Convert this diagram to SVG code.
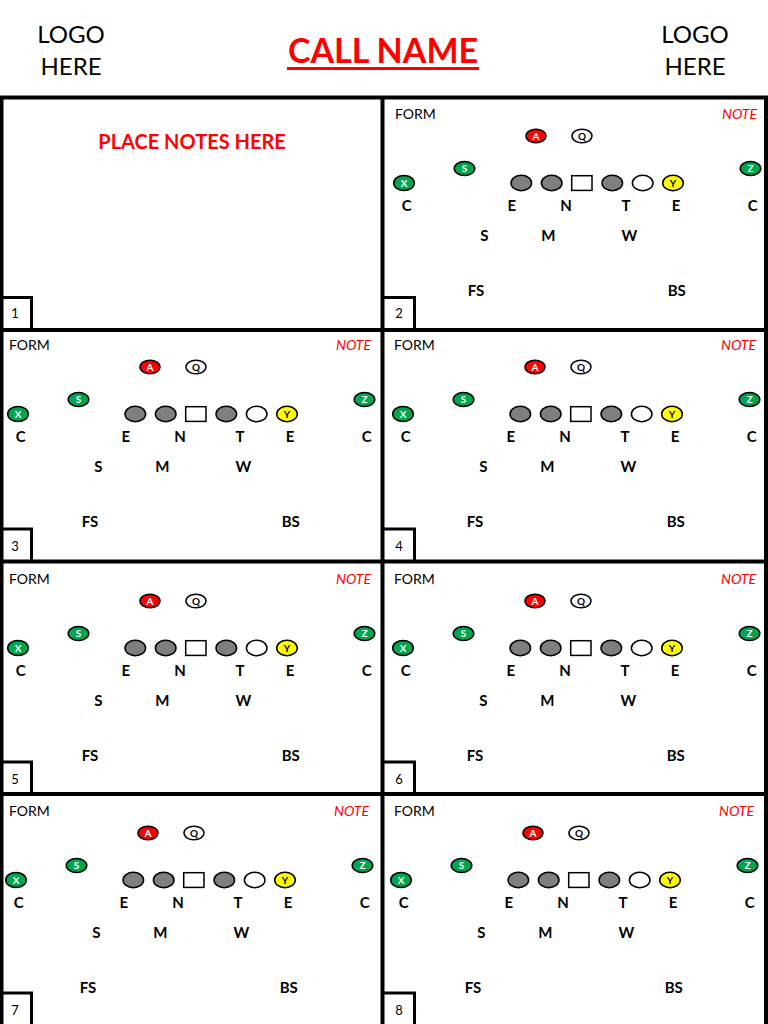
<svg xmlns="http://www.w3.org/2000/svg" width="768" height="1024" viewBox="0 0 768 1024">
<style>
.hd{font-family:Lato,"Liberation Sans",sans-serif;font-size:24px;fill:#000;text-anchor:middle}
.title{font-family:Lato,"Liberation Sans",sans-serif;font-size:34px;font-weight:bold;fill:#ff0000;text-anchor:middle}
.notes{font-family:Lato,"Liberation Sans",sans-serif;font-size:20px;font-weight:bold;fill:#ff0000;text-anchor:middle}
.grid{stroke:#000;stroke-width:4;fill:none}
.box{stroke:#000;stroke-width:3;fill:none}
.num{font-family:Lato,"Liberation Sans",sans-serif;font-size:13px;fill:#000;text-anchor:middle}
.form{font-family:Lato,"Liberation Sans",sans-serif;font-size:14px;fill:#000}
.note{font-family:Lato,"Liberation Sans",sans-serif;font-size:14px;font-style:italic;fill:#ff0000;text-anchor:end}
.lab{font-family:Lato,"Liberation Sans",sans-serif;font-size:15px;font-weight:bold;fill:#000;text-anchor:middle}
.pl{stroke:#000;stroke-width:1.5}
.red{fill:#ff0000}.grn{fill:#00a550}.yel{fill:#ffff00}.gry{fill:#7f7f7f}.wht{fill:#fff}
.pt{font-family:Lato,"Liberation Sans",sans-serif;font-size:10px;font-weight:bold;text-anchor:middle}
.pw{fill:#fff}.pk{fill:#000}
</style>
<g id="header">
<text class="hd" x="71" y="43">LOGO</text>
<text class="hd" x="71" y="75">HERE</text>
<text class="hd" x="695" y="43">LOGO</text>
<text class="hd" x="695" y="75">HERE</text>
<text class="title" x="383" y="63">CALL NAME</text>
<line x1="287" y1="68.5" x2="479" y2="68.5" stroke="#ff0000" stroke-width="3"/>
</g>
<g id="grid">
<line class="grid" x1="0" y1="97.5" x2="768" y2="97.5"/>
<line class="grid" x1="1.5" y1="96" x2="1.5" y2="1024" stroke-width="3"/>
<line class="grid" x1="766" y1="96" x2="766" y2="1024" stroke-width="3"/>
<line class="grid" x1="382.5" y1="96" x2="382.5" y2="1024"/>
<line class="grid" x1="0" y1="330" x2="768" y2="330"/>
<line class="grid" x1="0" y1="561.5" x2="768" y2="561.5"/>
<line class="grid" x1="0" y1="794" x2="768" y2="794"/>
</g>
<g id="numbers">
<path class="box" d="M1.5 297.5H31.5V330"/><text class="num" x="15" y="318">1</text>
<path class="box" d="M383 297.5H414.5V330"/><text class="num" x="399" y="318">2</text>
<path class="box" d="M1.5 529H31.5V561.5"/><text class="num" x="15" y="551">3</text>
<path class="box" d="M383 529H414.5V561.5"/><text class="num" x="399" y="551">4</text>
<path class="box" d="M1.5 762H31.5V794"/><text class="num" x="15" y="784">5</text>
<path class="box" d="M383 762H414.5V794"/><text class="num" x="399" y="784">6</text>
<path class="box" d="M1.5 993H31.5V1024"/><text class="num" x="15" y="1015">7</text>
<path class="box" d="M383 993H414.5V1024"/><text class="num" x="399" y="1015">8</text>
</g>
<g id="panel1">
<text class="notes" x="192" y="149">PLACE NOTES HERE</text>
</g>
<g id="panel2" transform="translate(386,98)">
<text class="form" x="9" y="21">FORM</text><text class="note" x="371" y="21">NOTE</text>
<ellipse class="pl red" cx="150" cy="38" rx="10" ry="6.8"/><text class="pt pw" x="150" y="41.5">A</text>
<ellipse class="pl wht" cx="196" cy="38" rx="10" ry="6.8"/><text class="pt pk" x="196" y="41.5">Q</text>
<ellipse class="pl grn" cx="78.5" cy="70.5" rx="10.3" ry="7"/><text class="pt pw" x="78.5" y="74">S</text>
<ellipse class="pl grn" cx="364.5" cy="70.5" rx="10.3" ry="7"/><text class="pt pw" x="364.5" y="74">Z</text>
<ellipse class="pl grn" cx="18" cy="85" rx="10.3" ry="7.5"/><text class="pt pw" x="18" y="88.5">X</text>
<ellipse class="pl gry" cx="135.3" cy="85" rx="10.3" ry="7.7"/>
<ellipse class="pl gry" cx="165.7" cy="85" rx="10.3" ry="7.7"/>
<rect class="pl wht" x="185.7" y="77.7" width="20.3" height="14.7"/>
<ellipse class="pl gry" cx="226.3" cy="85" rx="10.3" ry="7.7"/>
<ellipse class="pl wht" cx="256.7" cy="85" rx="10.3" ry="7.7"/>
<ellipse class="pl yel" cx="287" cy="85" rx="10.3" ry="7.7"/><text class="pt pk" x="287" y="88.5">Y</text>
<text class="lab" x="20.7" y="113">C</text><text class="lab" x="125.7" y="113">E</text><text class="lab" x="180" y="113">N</text><text class="lab" x="240" y="113">T</text><text class="lab" x="290" y="113">E</text><text class="lab" x="366.7" y="113">C</text>
<text class="lab" x="98.3" y="143">S</text><text class="lab" x="162.3" y="143">M</text><text class="lab" x="243.3" y="143">W</text>
<text class="lab" x="90" y="198">FS</text><text class="lab" x="290.7" y="198">BS</text>
</g>
<g id="panel3" transform="translate(0,329)">
<text class="form" x="9" y="21">FORM</text><text class="note" x="371" y="21">NOTE</text>
<ellipse class="pl red" cx="150" cy="38" rx="10" ry="6.8"/><text class="pt pw" x="150" y="41.5">A</text>
<ellipse class="pl wht" cx="196" cy="38" rx="10" ry="6.8"/><text class="pt pk" x="196" y="41.5">Q</text>
<ellipse class="pl grn" cx="78.5" cy="70.5" rx="10.3" ry="7"/><text class="pt pw" x="78.5" y="74">S</text>
<ellipse class="pl grn" cx="364.5" cy="70.5" rx="10.3" ry="7"/><text class="pt pw" x="364.5" y="74">Z</text>
<ellipse class="pl grn" cx="18" cy="85" rx="10.3" ry="7.5"/><text class="pt pw" x="18" y="88.5">X</text>
<ellipse class="pl gry" cx="135.3" cy="85" rx="10.3" ry="7.7"/>
<ellipse class="pl gry" cx="165.7" cy="85" rx="10.3" ry="7.7"/>
<rect class="pl wht" x="185.7" y="77.7" width="20.3" height="14.7"/>
<ellipse class="pl gry" cx="226.3" cy="85" rx="10.3" ry="7.7"/>
<ellipse class="pl wht" cx="256.7" cy="85" rx="10.3" ry="7.7"/>
<ellipse class="pl yel" cx="287" cy="85" rx="10.3" ry="7.7"/><text class="pt pk" x="287" y="88.5">Y</text>
<text class="lab" x="20.7" y="113">C</text><text class="lab" x="125.7" y="113">E</text><text class="lab" x="180" y="113">N</text><text class="lab" x="240" y="113">T</text><text class="lab" x="290" y="113">E</text><text class="lab" x="366.7" y="113">C</text>
<text class="lab" x="98.3" y="143">S</text><text class="lab" x="162.3" y="143">M</text><text class="lab" x="243.3" y="143">W</text>
<text class="lab" x="90" y="198">FS</text><text class="lab" x="290.7" y="198">BS</text>
</g>
<g id="panel4" transform="translate(385,329)">
<text class="form" x="9" y="21">FORM</text><text class="note" x="371" y="21">NOTE</text>
<ellipse class="pl red" cx="150" cy="38" rx="10" ry="6.8"/><text class="pt pw" x="150" y="41.5">A</text>
<ellipse class="pl wht" cx="196" cy="38" rx="10" ry="6.8"/><text class="pt pk" x="196" y="41.5">Q</text>
<ellipse class="pl grn" cx="78.5" cy="70.5" rx="10.3" ry="7"/><text class="pt pw" x="78.5" y="74">S</text>
<ellipse class="pl grn" cx="364.5" cy="70.5" rx="10.3" ry="7"/><text class="pt pw" x="364.5" y="74">Z</text>
<ellipse class="pl grn" cx="18" cy="85" rx="10.3" ry="7.5"/><text class="pt pw" x="18" y="88.5">X</text>
<ellipse class="pl gry" cx="135.3" cy="85" rx="10.3" ry="7.7"/>
<ellipse class="pl gry" cx="165.7" cy="85" rx="10.3" ry="7.7"/>
<rect class="pl wht" x="185.7" y="77.7" width="20.3" height="14.7"/>
<ellipse class="pl gry" cx="226.3" cy="85" rx="10.3" ry="7.7"/>
<ellipse class="pl wht" cx="256.7" cy="85" rx="10.3" ry="7.7"/>
<ellipse class="pl yel" cx="287" cy="85" rx="10.3" ry="7.7"/><text class="pt pk" x="287" y="88.5">Y</text>
<text class="lab" x="20.7" y="113">C</text><text class="lab" x="125.7" y="113">E</text><text class="lab" x="180" y="113">N</text><text class="lab" x="240" y="113">T</text><text class="lab" x="290" y="113">E</text><text class="lab" x="366.7" y="113">C</text>
<text class="lab" x="98.3" y="143">S</text><text class="lab" x="162.3" y="143">M</text><text class="lab" x="243.3" y="143">W</text>
<text class="lab" x="90" y="198">FS</text><text class="lab" x="290.7" y="198">BS</text>
</g>
<g id="panel5" transform="translate(0,563)">
<text class="form" x="9" y="21">FORM</text><text class="note" x="371" y="21">NOTE</text>
<ellipse class="pl red" cx="150" cy="38" rx="10" ry="6.8"/><text class="pt pw" x="150" y="41.5">A</text>
<ellipse class="pl wht" cx="196" cy="38" rx="10" ry="6.8"/><text class="pt pk" x="196" y="41.5">Q</text>
<ellipse class="pl grn" cx="78.5" cy="70.5" rx="10.3" ry="7"/><text class="pt pw" x="78.5" y="74">S</text>
<ellipse class="pl grn" cx="364.5" cy="70.5" rx="10.3" ry="7"/><text class="pt pw" x="364.5" y="74">Z</text>
<ellipse class="pl grn" cx="18" cy="85" rx="10.3" ry="7.5"/><text class="pt pw" x="18" y="88.5">X</text>
<ellipse class="pl gry" cx="135.3" cy="85" rx="10.3" ry="7.7"/>
<ellipse class="pl gry" cx="165.7" cy="85" rx="10.3" ry="7.7"/>
<rect class="pl wht" x="185.7" y="77.7" width="20.3" height="14.7"/>
<ellipse class="pl gry" cx="226.3" cy="85" rx="10.3" ry="7.7"/>
<ellipse class="pl wht" cx="256.7" cy="85" rx="10.3" ry="7.7"/>
<ellipse class="pl yel" cx="287" cy="85" rx="10.3" ry="7.7"/><text class="pt pk" x="287" y="88.5">Y</text>
<text class="lab" x="20.7" y="113">C</text><text class="lab" x="125.7" y="113">E</text><text class="lab" x="180" y="113">N</text><text class="lab" x="240" y="113">T</text><text class="lab" x="290" y="113">E</text><text class="lab" x="366.7" y="113">C</text>
<text class="lab" x="98.3" y="143">S</text><text class="lab" x="162.3" y="143">M</text><text class="lab" x="243.3" y="143">W</text>
<text class="lab" x="90" y="198">FS</text><text class="lab" x="290.7" y="198">BS</text>
</g>
<g id="panel6" transform="translate(385,563)">
<text class="form" x="9" y="21">FORM</text><text class="note" x="371" y="21">NOTE</text>
<ellipse class="pl red" cx="150" cy="38" rx="10" ry="6.8"/><text class="pt pw" x="150" y="41.5">A</text>
<ellipse class="pl wht" cx="196" cy="38" rx="10" ry="6.8"/><text class="pt pk" x="196" y="41.5">Q</text>
<ellipse class="pl grn" cx="78.5" cy="70.5" rx="10.3" ry="7"/><text class="pt pw" x="78.5" y="74">S</text>
<ellipse class="pl grn" cx="364.5" cy="70.5" rx="10.3" ry="7"/><text class="pt pw" x="364.5" y="74">Z</text>
<ellipse class="pl grn" cx="18" cy="85" rx="10.3" ry="7.5"/><text class="pt pw" x="18" y="88.5">X</text>
<ellipse class="pl gry" cx="135.3" cy="85" rx="10.3" ry="7.7"/>
<ellipse class="pl gry" cx="165.7" cy="85" rx="10.3" ry="7.7"/>
<rect class="pl wht" x="185.7" y="77.7" width="20.3" height="14.7"/>
<ellipse class="pl gry" cx="226.3" cy="85" rx="10.3" ry="7.7"/>
<ellipse class="pl wht" cx="256.7" cy="85" rx="10.3" ry="7.7"/>
<ellipse class="pl yel" cx="287" cy="85" rx="10.3" ry="7.7"/><text class="pt pk" x="287" y="88.5">Y</text>
<text class="lab" x="20.7" y="113">C</text><text class="lab" x="125.7" y="113">E</text><text class="lab" x="180" y="113">N</text><text class="lab" x="240" y="113">T</text><text class="lab" x="290" y="113">E</text><text class="lab" x="366.7" y="113">C</text>
<text class="lab" x="98.3" y="143">S</text><text class="lab" x="162.3" y="143">M</text><text class="lab" x="243.3" y="143">W</text>
<text class="lab" x="90" y="198">FS</text><text class="lab" x="290.7" y="198">BS</text>
</g>
<g id="panel7" transform="translate(-2,795)">
<text class="form" x="11" y="21">FORM</text><text class="note" x="371" y="21">NOTE</text>
<ellipse class="pl red" cx="150" cy="38" rx="10" ry="6.8"/><text class="pt pw" x="150" y="41.5">A</text>
<ellipse class="pl wht" cx="196" cy="38" rx="10" ry="6.8"/><text class="pt pk" x="196" y="41.5">Q</text>
<ellipse class="pl grn" cx="78.5" cy="70.5" rx="10.3" ry="7"/><text class="pt pw" x="78.5" y="74">S</text>
<ellipse class="pl grn" cx="364.5" cy="70.5" rx="10.3" ry="7"/><text class="pt pw" x="364.5" y="74">Z</text>
<ellipse class="pl grn" cx="18" cy="85" rx="10.3" ry="7.5"/><text class="pt pw" x="18" y="88.5">X</text>
<ellipse class="pl gry" cx="135.3" cy="85" rx="10.3" ry="7.7"/>
<ellipse class="pl gry" cx="165.7" cy="85" rx="10.3" ry="7.7"/>
<rect class="pl wht" x="185.7" y="77.7" width="20.3" height="14.7"/>
<ellipse class="pl gry" cx="226.3" cy="85" rx="10.3" ry="7.7"/>
<ellipse class="pl wht" cx="256.7" cy="85" rx="10.3" ry="7.7"/>
<ellipse class="pl yel" cx="287" cy="85" rx="10.3" ry="7.7"/><text class="pt pk" x="287" y="88.5">Y</text>
<text class="lab" x="20.7" y="113">C</text><text class="lab" x="125.7" y="113">E</text><text class="lab" x="180" y="113">N</text><text class="lab" x="240" y="113">T</text><text class="lab" x="290" y="113">E</text><text class="lab" x="366.7" y="113">C</text>
<text class="lab" x="98.3" y="143">S</text><text class="lab" x="162.3" y="143">M</text><text class="lab" x="243.3" y="143">W</text>
<text class="lab" x="90" y="198">FS</text><text class="lab" x="290.7" y="198">BS</text>
</g>
<g id="panel8" transform="translate(383,795)">
<text class="form" x="11" y="21">FORM</text><text class="note" x="371" y="21">NOTE</text>
<ellipse class="pl red" cx="150" cy="38" rx="10" ry="6.8"/><text class="pt pw" x="150" y="41.5">A</text>
<ellipse class="pl wht" cx="196" cy="38" rx="10" ry="6.8"/><text class="pt pk" x="196" y="41.5">Q</text>
<ellipse class="pl grn" cx="78.5" cy="70.5" rx="10.3" ry="7"/><text class="pt pw" x="78.5" y="74">S</text>
<ellipse class="pl grn" cx="364.5" cy="70.5" rx="10.3" ry="7"/><text class="pt pw" x="364.5" y="74">Z</text>
<ellipse class="pl grn" cx="18" cy="85" rx="10.3" ry="7.5"/><text class="pt pw" x="18" y="88.5">X</text>
<ellipse class="pl gry" cx="135.3" cy="85" rx="10.3" ry="7.7"/>
<ellipse class="pl gry" cx="165.7" cy="85" rx="10.3" ry="7.7"/>
<rect class="pl wht" x="185.7" y="77.7" width="20.3" height="14.7"/>
<ellipse class="pl gry" cx="226.3" cy="85" rx="10.3" ry="7.7"/>
<ellipse class="pl wht" cx="256.7" cy="85" rx="10.3" ry="7.7"/>
<ellipse class="pl yel" cx="287" cy="85" rx="10.3" ry="7.7"/><text class="pt pk" x="287" y="88.5">Y</text>
<text class="lab" x="20.7" y="113">C</text><text class="lab" x="125.7" y="113">E</text><text class="lab" x="180" y="113">N</text><text class="lab" x="240" y="113">T</text><text class="lab" x="290" y="113">E</text><text class="lab" x="366.7" y="113">C</text>
<text class="lab" x="98.3" y="143">S</text><text class="lab" x="162.3" y="143">M</text><text class="lab" x="243.3" y="143">W</text>
<text class="lab" x="90" y="198">FS</text><text class="lab" x="290.7" y="198">BS</text>
</g>
</svg>
